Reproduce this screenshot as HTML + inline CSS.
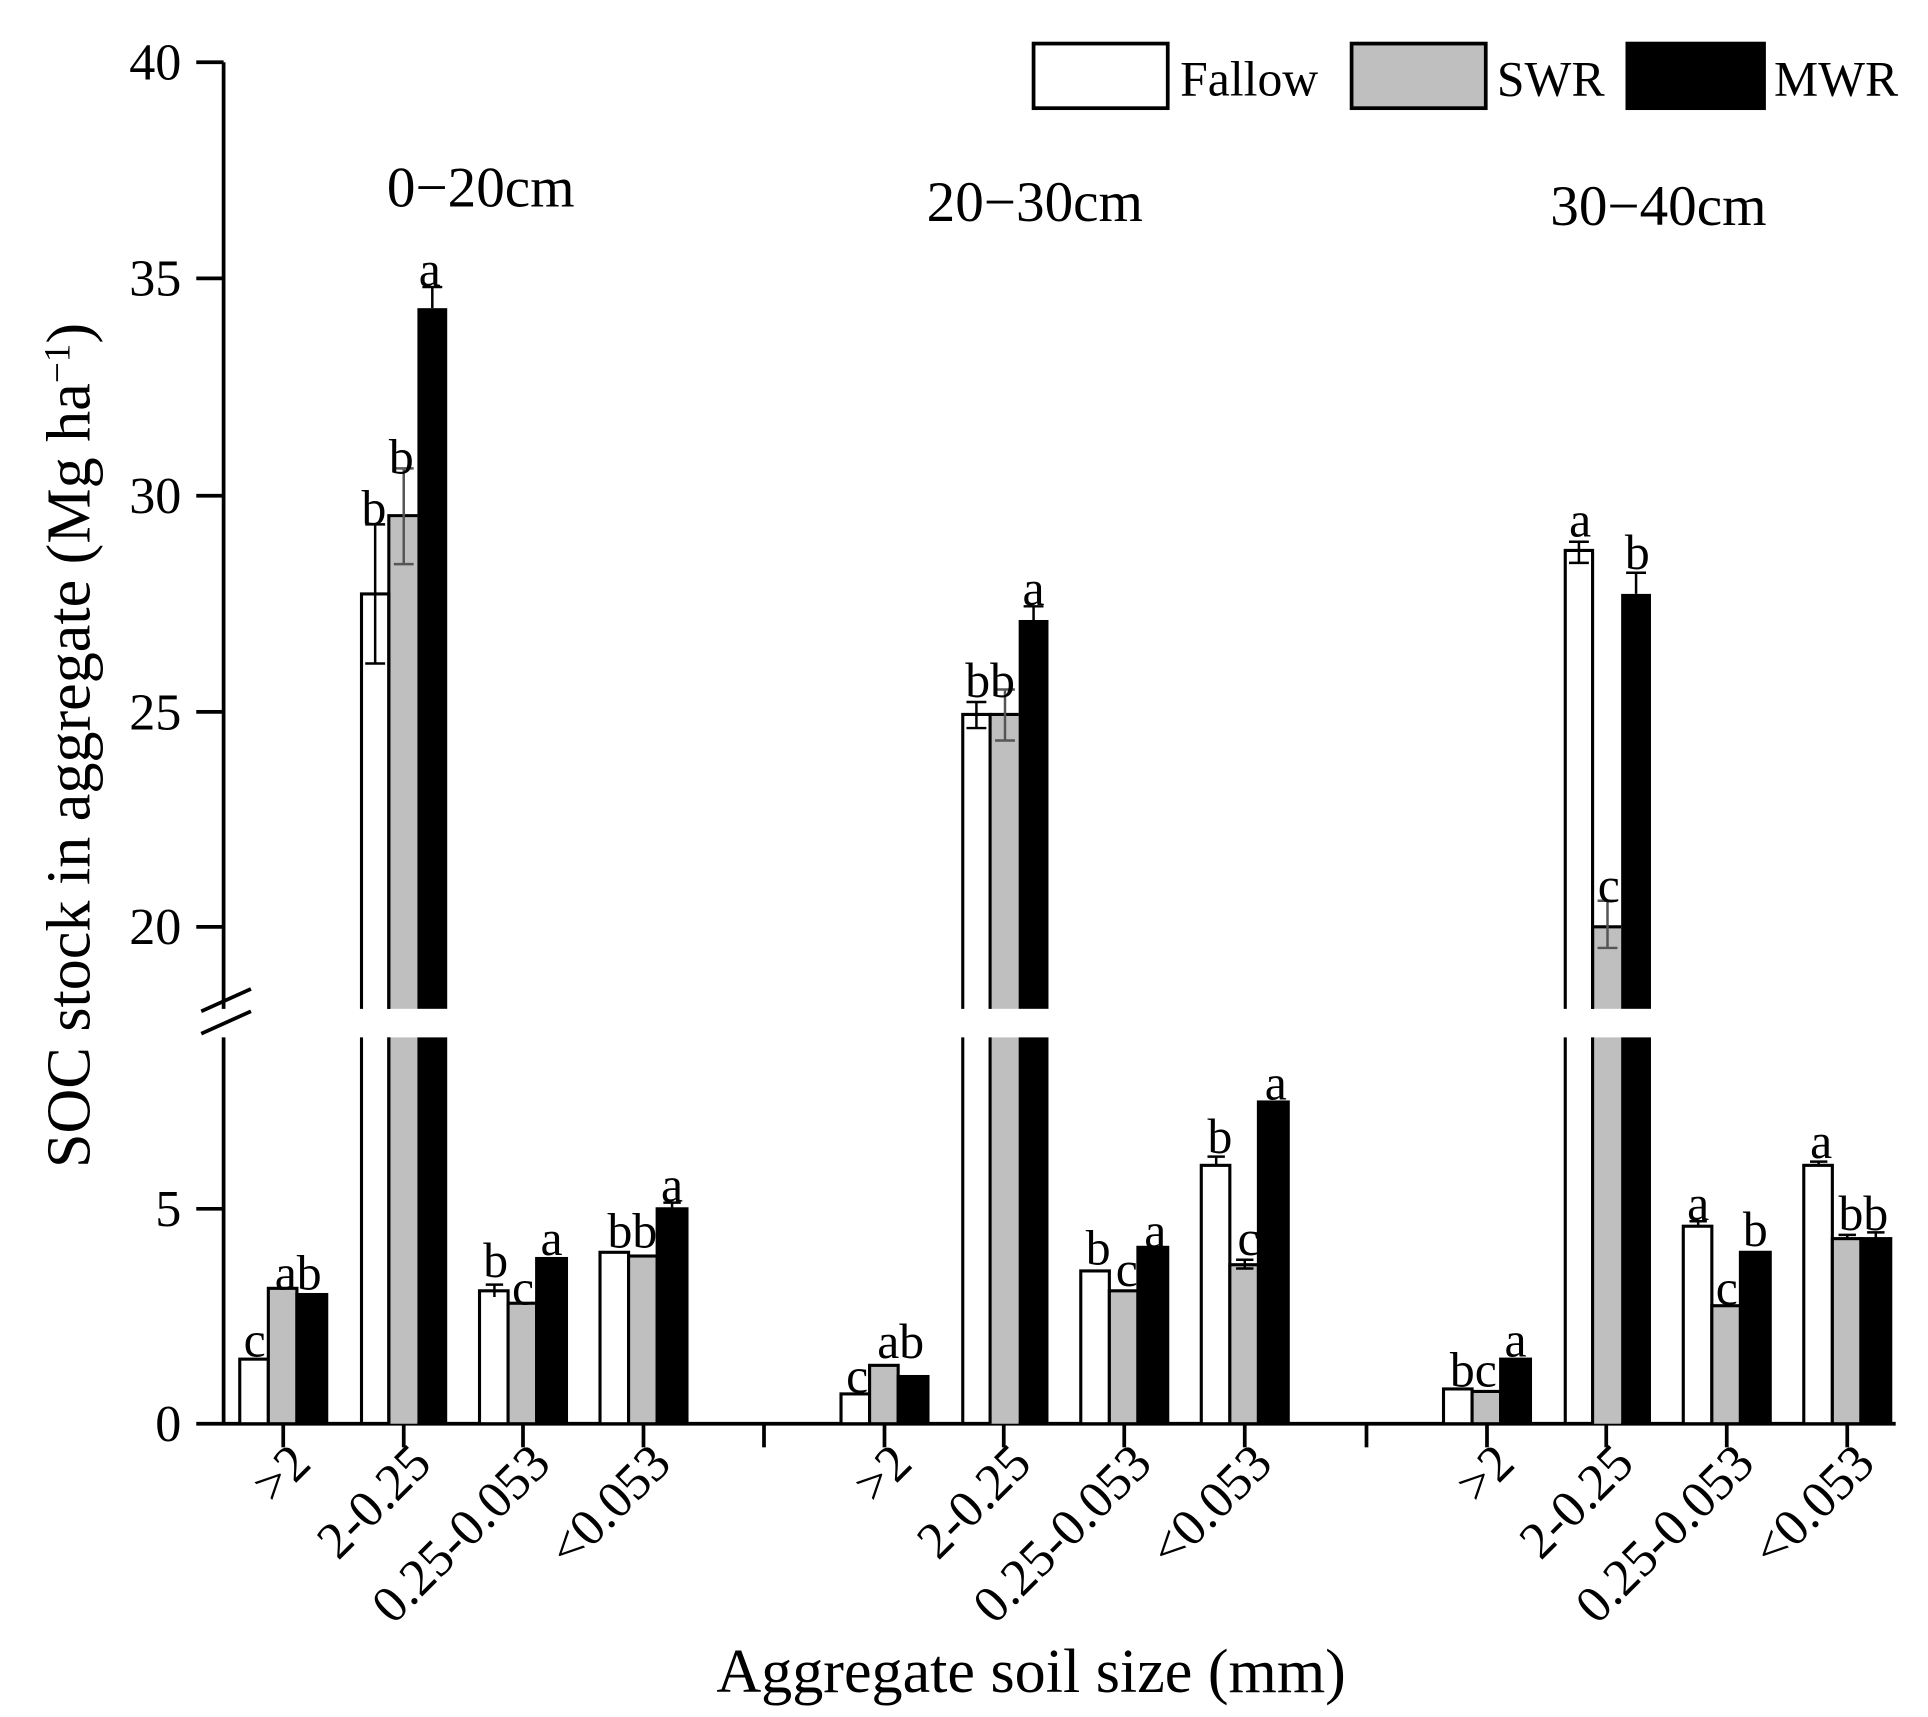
<!DOCTYPE html>
<html><head><meta charset="utf-8"><style>html,body{margin:0;padding:0;background:#fff}svg{display:block}</style></head>
<body>
<svg width="1928" height="1717" viewBox="0 0 1552 1382" xmlns="http://www.w3.org/2000/svg" font-family="Liberation Serif, serif">
<rect width="1552" height="1382" fill="#fff"/>
<g stroke="#000" stroke-width="3" fill="none">
<line x1="180" y1="50" x2="180" y2="812"/>
<line x1="180" y1="835" x2="180" y2="1146"/>
<line x1="158" y1="1146" x2="1526" y2="1146"/>
<line x1="158" y1="50" x2="180" y2="50"/>
<line x1="158" y1="224" x2="180" y2="224"/>
<line x1="158" y1="399" x2="180" y2="399"/>
<line x1="158" y1="573" x2="180" y2="573"/>
<line x1="158" y1="746" x2="180" y2="746"/>
<line x1="158" y1="973" x2="180" y2="973"/>
<line x1="162" y1="814" x2="202" y2="796"/>
<line x1="162" y1="832" x2="202" y2="814"/>
<line x1="228" y1="1146" x2="228" y2="1165"/><line x1="325" y1="1146" x2="325" y2="1165"/><line x1="421" y1="1146" x2="421" y2="1165"/><line x1="518" y1="1146" x2="518" y2="1165"/><line x1="615" y1="1146" x2="615" y2="1165"/>
<line x1="712" y1="1146" x2="712" y2="1165"/><line x1="808" y1="1146" x2="808" y2="1165"/><line x1="905" y1="1146" x2="905" y2="1165"/><line x1="1002" y1="1146" x2="1002" y2="1165"/><line x1="1100" y1="1146" x2="1100" y2="1165"/>
<line x1="1197" y1="1146" x2="1197" y2="1165"/><line x1="1293" y1="1146" x2="1293" y2="1165"/><line x1="1390" y1="1146" x2="1390" y2="1165"/><line x1="1487" y1="1146" x2="1487" y2="1165"/>
</g>
<g font-size="42" text-anchor="end" fill="#000">
<text x="146" y="64">40</text><text x="146" y="238">35</text><text x="146" y="413">30</text><text x="146" y="587">25</text><text x="146" y="760">20</text><text x="146" y="987">5</text><text x="146" y="1160">0</text>
</g>
<g stroke="#000" stroke-width="2.5">
<rect x="193" y="1094" width="23" height="52" fill="#fff"/><rect x="216" y="1037" width="23" height="109" fill="#bfbfbf"/><rect x="239" y="1042" width="24" height="104" fill="#000"/>
<rect x="386" y="1039" width="23" height="107" fill="#fff"/><rect x="409" y="1049" width="23" height="97" fill="#bfbfbf"/><rect x="432" y="1013" width="24" height="133" fill="#000"/>
<rect x="483" y="1008" width="23" height="138" fill="#fff"/><rect x="506" y="1011" width="23" height="135" fill="#bfbfbf"/><rect x="529" y="973" width="24" height="173" fill="#000"/>
<rect x="677" y="1122" width="23" height="24" fill="#fff"/><rect x="700" y="1099" width="23" height="47" fill="#bfbfbf"/><rect x="723" y="1108" width="24" height="38" fill="#000"/>
<rect x="870" y="1023" width="23" height="123" fill="#fff"/><rect x="893" y="1039" width="23" height="107" fill="#bfbfbf"/><rect x="916" y="1004" width="24" height="142" fill="#000"/>
<rect x="967" y="938" width="23" height="208" fill="#fff"/><rect x="990" y="1018" width="23" height="128" fill="#bfbfbf"/><rect x="1013" y="887" width="24" height="259" fill="#000"/>
<rect x="1162" y="1118" width="23" height="28" fill="#fff"/><rect x="1185" y="1120" width="23" height="26" fill="#bfbfbf"/><rect x="1208" y="1094" width="24" height="52" fill="#000"/>
<rect x="1355" y="987" width="23" height="159" fill="#fff"/><rect x="1378" y="1051" width="23" height="95" fill="#bfbfbf"/><rect x="1401" y="1008" width="24" height="138" fill="#000"/>
<rect x="1452" y="938" width="23" height="208" fill="#fff"/><rect x="1475" y="997" width="23" height="149" fill="#bfbfbf"/><rect x="1498" y="997" width="24" height="149" fill="#000"/>
</g>
<g>
<rect x="313" y="415" width="23" height="397" fill="#bfbfbf"/><rect x="313" y="835" width="23" height="311" fill="#bfbfbf"/>
<rect x="336" y="248" width="24" height="564" fill="#000"/><rect x="336" y="835" width="24" height="311" fill="#000"/>
<rect x="797" y="575" width="23" height="237" fill="#bfbfbf"/><rect x="797" y="835" width="23" height="311" fill="#bfbfbf"/>
<rect x="820" y="499" width="24" height="313" fill="#000"/><rect x="820" y="835" width="24" height="311" fill="#000"/>
<rect x="1282" y="746" width="23" height="66" fill="#bfbfbf"/><rect x="1282" y="835" width="23" height="311" fill="#bfbfbf"/>
<rect x="1305" y="478" width="24" height="334" fill="#000"/><rect x="1305" y="835" width="24" height="311" fill="#000"/>
</g>
<g stroke="#000" stroke-width="2.5" fill="none">
<path d="M291,812 V478 H313 V812 M291,835 V1146 M313,835 V1146"/>
<path d="M313,812 V415 H336 M313,835 V1146"/>
<path d="M775,812 V575 H797 V812 M775,835 V1146 M797,835 V1146"/>
<path d="M797,575 H820"/>
<path d="M1260,812 V443 H1282 V812 M1260,835 V1146 M1282,835 V1146"/>
<path d="M1282,746 H1305 M1282,812 V746"/>
</g>
<g stroke="#000" stroke-width="2" fill="none">
<path d="M302,534 V422 M294,534 H310 M294,422 H310"/>
<path d="M325,454 V377 M317,454 H333 M317,377 H333" stroke="#555"/>
<path d="M348,248 V231 M340,231 H356"/>
<path d="M786,586 V565 M778,586 H794 M778,565 H794"/>
<path d="M809,596 V555 M801,596 H817 M801,555 H817" stroke="#555"/>
<path d="M832,499 V488 M824,488 H840"/>
<path d="M1271,453 V436 M1263,453 H1279 M1263,436 H1279"/>
<path d="M1294,763 V725 M1286,763 H1302 M1286,725 H1302" stroke="#555"/>
<path d="M1317,478 V461 M1309,461 H1325"/>
<path d="M398,1044 V1034 M391,1034 H405"/>
<path d="M541,973 V968 M534,968 H548"/>
<path d="M979,938 V931 M972,931 H986"/>
<path d="M1002,1021 V1014 M995,1021 H1009 M995,1014 H1009"/>
<path d="M1367,987 V983 M1360,983 H1374"/>
<path d="M1464,938 V935 M1457,935 H1471"/>
<path d="M1487,997 V994 M1480,994 H1494"/>
<path d="M1510,997 V992 M1503,992 H1517"/>
</g>
<g font-size="40" text-anchor="middle" fill="#000">
<text x="205" y="1092">c</text><text x="240" y="1038">ab</text>
<text x="301" y="422">b</text><text x="323" y="381">b</text><text x="346" y="230">a</text>
<text x="399" y="1028">b</text><text x="421" y="1050">c</text><text x="444" y="1010">a</text>
<text x="509" y="1004">bb</text><text x="541" y="967">a</text>
<text x="690" y="1121">c</text><text x="725" y="1093">ab</text>
<text x="797" y="561">bb</text><text x="832" y="487">a</text>
<text x="884" y="1018">b</text><text x="907" y="1035">c</text><text x="930" y="1004">a</text>
<text x="982" y="928">b</text><text x="1005" y="1010">c</text><text x="1027" y="885">a</text>
<text x="1186" y="1116">bc</text><text x="1220" y="1092">a</text>
<text x="1272" y="432">a</text><text x="1295" y="726">c</text><text x="1318" y="458">b</text>
<text x="1367" y="982">a</text><text x="1390" y="1050">c</text><text x="1413" y="1003">b</text>
<text x="1466" y="932">a</text><text x="1500" y="990">bb</text>
</g>
<g font-size="46" text-anchor="middle" fill="#000">
<text x="387" y="166">0−20cm</text><text x="833" y="178">20−30cm</text><text x="1335" y="181">30−40cm</text>
</g>
<g stroke="#000" stroke-width="3">
<rect x="832" y="35" width="108" height="52" fill="#fff"/>
<rect x="1088" y="35" width="108" height="52" fill="#bfbfbf"/>
<rect x="1310" y="35" width="110" height="52" fill="#000"/>
</g>
<g font-size="40" fill="#000">
<text x="950" y="77">Fallow</text><text x="1205" y="77">SWR</text><text x="1428" y="77">MWR</text>
</g>
<g font-size="42" text-anchor="end" fill="#000">
<text transform="translate(252,1180) rotate(-45)">&gt;2</text>
<text transform="translate(349,1180) rotate(-45)">2-0.25</text>
<text transform="translate(445,1180) rotate(-45)">0.25-0.053</text>
<text transform="translate(542,1180) rotate(-45)">&lt;0.053</text>
<text transform="translate(736,1180) rotate(-45)">&gt;2</text>
<text transform="translate(832,1180) rotate(-45)">2-0.25</text>
<text transform="translate(929,1180) rotate(-45)">0.25-0.053</text>
<text transform="translate(1026,1180) rotate(-45)">&lt;0.053</text>
<text transform="translate(1221,1180) rotate(-45)">&gt;2</text>
<text transform="translate(1317,1180) rotate(-45)">2-0.25</text>
<text transform="translate(1414,1180) rotate(-45)">0.25-0.053</text>
<text transform="translate(1511,1180) rotate(-45)">&lt;0.053</text>
</g>
<text x="830" y="1362" font-size="50" text-anchor="middle" fill="#000">Aggregate soil size (mm)</text>
<text transform="translate(72,600) rotate(-90)" font-size="50" text-anchor="middle" fill="#000">SOC stock in aggregate (Mg ha<tspan baseline-shift="super" font-size="30">−1</tspan>)</text>
</svg>
</body></html>
